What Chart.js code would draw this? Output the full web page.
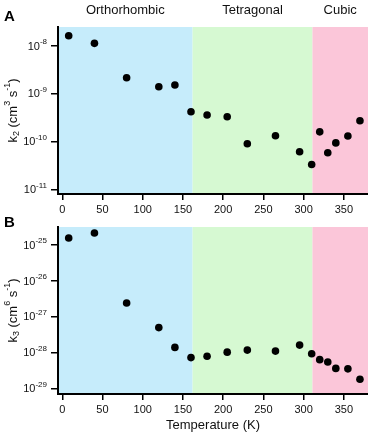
<!DOCTYPE html>
<html>
<head>
<meta charset="utf-8">
<script src="https://cdn.jsdelivr.net/npm/chart.js@4.4.1/dist/chart.umd.min.js"></script>
<style>
  body { margin: 0; background: #fff; }
  canvas { display: block; }
</style>
</head>
<body>
<canvas id="chartA" width="368" height="216"></canvas>
<canvas id="chartB" width="368" height="220"></canvas>
<script>
// temperatures (K) of the measurements
var temps = [8, 40, 80, 120, 140, 160, 180, 205, 230, 265, 295, 310, 320, 330, 340, 355, 370];
// k2 (cm3 s-1)
var k2 = [1.6e-8, 1.11e-8, 2.13e-9, 1.38e-9, 1.5e-9, 4.15e-10, 3.54e-10, 3.27e-10, 8.9e-11,
          1.31e-10, 6.07e-11, 3.3e-11, 1.58e-10, 5.78e-11, 9.3e-11, 1.29e-10, 2.69e-10];
// k3 (cm6 s-1)
var k3 = [1.52e-25, 2.09e-25, 2.36e-27, 4.9e-28, 1.38e-28, 7.2e-29, 7.8e-29, 1.02e-28, 1.16e-28,
          1.09e-28, 1.6e-28, 9.2e-29, 6.3e-29, 5.4e-29, 3.6e-29, 3.5e-29, 1.8e-29];

var phaseNames = ['Orthorhombic', 'Tetragonal', 'Cubic'];
var phaseBounds = [162, 311];   // transition temperatures
var phaseColors = ['#c6ecfb', '#d6f9d2', '#fbc6d9'];

var xTicks = [0, 50, 100, 150, 200, 250, 300, 350];
var k2Ticks = [1e-11, 1e-10, 1e-9, 1e-8];
var k3Ticks = [1e-29, 1e-28, 1e-27, 1e-26, 1e-25];

var FONT = '"Liberation Sans", Arial, Helvetica, sans-serif';

// draws text made of parts, some raised (sup) or lowered (sub)
function drawRich(ctx, parts, x, y, size, align) {
  var small = Math.round(size * 0.72);
  var widths = parts.map(function (p) {
    ctx.font = (p.sup || p.sub ? small : size) + 'px ' + FONT;
    return ctx.measureText(p.t).width;
  });
  var total = widths.reduce(function (a, b) { return a + b; }, 0);
  var cx = align === 'right' ? x - total : align === 'center' ? x - total / 2 : x;
  ctx.textAlign = 'left';
  ctx.textBaseline = 'middle';
  parts.forEach(function (p, i) {
    ctx.font = (p.sup || p.sub ? small : size) + 'px ' + FONT;
    var dy = p.sup ? -size * 0.4 : p.sub ? size * 0.3 : 0;
    ctx.fillText(p.t, cx, y + dy);
    cx += widths[i];
  });
}

var phasePlugin = {
  id: 'phases',
  beforeDraw: function (chart, args, opts) {
    var ctx = chart.ctx, a = chart.chartArea, x = chart.scales.x;
    var edges = [x.min].concat(phaseBounds, [x.max]);
    ctx.save();
    for (var i = 0; i < phaseNames.length; i++) {
      var x0 = Math.max(a.left, x.getPixelForValue(edges[i]));
      var x1 = Math.min(a.right, x.getPixelForValue(edges[i + 1]));
      ctx.fillStyle = phaseColors[i];
      ctx.fillRect(x0, a.top, x1 - x0, a.bottom - a.top);
      if (opts.labels) {
        ctx.fillStyle = '#111';
        ctx.font = '13px ' + FONT;
        ctx.textAlign = 'center';
        ctx.textBaseline = 'middle';
        ctx.fillText(phaseNames[i], (x0 + x1) / 2, 10);
      }
    }
    ctx.restore();
  },
  afterDraw: function (chart, args, opts) {
    var ctx = chart.ctx, a = chart.chartArea, y = chart.scales.y;
    ctx.save();
    ctx.fillStyle = '#000';
    ctx.font = 'bold 15px ' + FONT;
    ctx.textAlign = 'left';
    ctx.textBaseline = 'middle';
    ctx.fillText(opts.letter, 4, opts.letterY);

    // power-of-ten tick labels
    ctx.fillStyle = '#111';
    y.ticks.forEach(function (t) {
      var e = String(Math.round(Math.log10(t.value)));
      drawRich(ctx, [{t: '10'}, {t: e, sup: true}], a.left - 11, y.getPixelForValue(t.value) + 1, 11, 'right');
    });

    // rotated axis title
    ctx.translate(13, (a.top + a.bottom) / 2);
    ctx.rotate(-Math.PI / 2);
    drawRich(ctx, opts.yTitle, 0, 0, 13, 'center');
    ctx.restore();
  }
};

function makeChart(id, values, yTicks, yMin, yMax, opts) {
  return new Chart(document.getElementById(id), {
    type: 'scatter',
    data: {
      datasets: [{
        data: temps.map(function (t, i) { return {x: t, y: values[i]}; }),
        backgroundColor: '#000',
        borderWidth: 0,
        pointRadius: 3.8,
        pointHoverRadius: 3.8
      }]
    },
    options: {
      responsive: false,
      animation: false,
      devicePixelRatio: 1,
      layout: {autoPadding: false, padding: {top: opts.top, left: 0, right: 0, bottom: 0}},
      plugins: {
        legend: {display: false},
        tooltip: {enabled: false},
        phases: {labels: opts.labels, letter: opts.letter, letterY: opts.letterY, yTitle: opts.yTitle}
      },
      scales: {
        x: {
          type: 'linear',
          min: -5.3,
          max: 380,
          afterBuildTicks: function (s) { s.ticks = xTicks.map(function (v) { return {value: v}; }); },
          afterFit: function (s) { s.height = opts.xHeight; s.paddingLeft = 0; s.paddingRight = 0; },
          border: {display: true, color: '#000', width: 2},
          grid: {drawOnChartArea: false, drawTicks: true, tickLength: 6, color: '#000', lineWidth: 1.5},
          ticks: {color: '#111', font: {family: FONT, size: 11}, padding: 3, maxRotation: 0},
          title: {display: !!opts.xTitle, text: opts.xTitle || '', color: '#111',
                  font: {family: FONT, size: 13}, padding: {top: 0, bottom: 3}}
        },
        y: {
          type: 'logarithmic',
          min: yMin,
          max: yMax,
          afterBuildTicks: function (s) { s.ticks = yTicks.map(function (v) { return {value: v}; }); },
          afterFit: function (s) { s.width = 58; s.paddingTop = 0; s.paddingBottom = 0; },
          border: {display: true, color: '#000', width: 2},
          grid: {drawOnChartArea: false, drawTicks: true, tickLength: 7, color: '#000', lineWidth: 1.5},
          ticks: {display: false},
          title: {display: false}
        }
      }
    },
    plugins: [phasePlugin]
  });
}

makeChart('chartA', k2, k2Ticks, Math.pow(10, -11.098), Math.pow(10, -7.614), {
  top: 27, xHeight: 22, labels: true, letter: 'A', letterY: 17,
  yTitle: [{t: 'k'}, {t: '2', sub: true}, {t: ' (cm'}, {t: '3', sup: true}, {t: ' s'}, {t: '-1', sup: true}, {t: ')'}]
});

makeChart('chartB', k3, k3Ticks, Math.pow(10, -29.138), Math.pow(10, -24.514), {
  top: 11, xHeight: 42, labels: false, letter: 'B', letterY: 7, xTitle: 'Temperature (K)',
  yTitle: [{t: 'k'}, {t: '3', sub: true}, {t: ' (cm'}, {t: '6', sup: true}, {t: ' s'}, {t: '-1', sup: true}, {t: ')'}]
});
</script>
</body>
</html>
